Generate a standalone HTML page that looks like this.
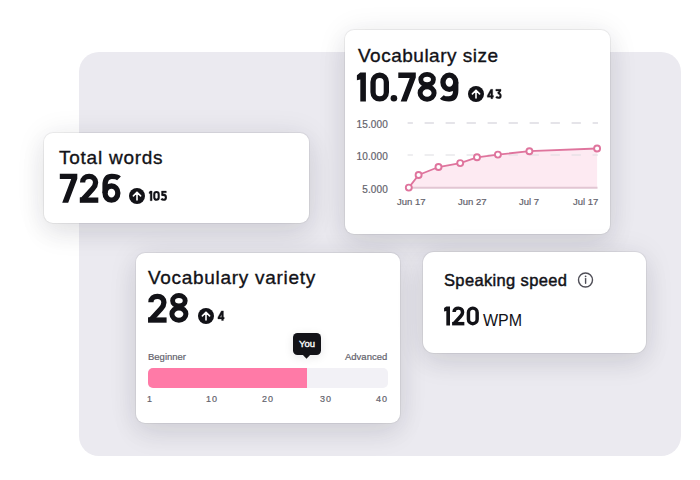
<!DOCTYPE html>
<html><head><meta charset="utf-8">
<style>
html,body{margin:0;padding:0;background:#fff;}
body{width:700px;height:480px;position:relative;overflow:hidden;font-family:"Liberation Sans",sans-serif;color:#121217;}
.abs{position:absolute;}
.panel{left:79px;top:52px;width:602px;height:404px;border-radius:20px;background:#ebeaf0;}
.card{position:absolute;background:#fff;border-radius:9px;box-shadow:0 0 0 1px rgba(0,0,0,0.055),0 2px 30px rgba(35,35,55,0.09),0 12px 26px rgba(35,35,55,0.08);}
.t{position:absolute;white-space:nowrap;line-height:1;}
.h{font-size:19px;-webkit-text-stroke:0.35px #121217;}
.big{font-weight:bold;font-size:39.5px;transform-origin:0 0;-webkit-text-stroke:0.5px #121217;}
.sm{font-weight:bold;font-size:13px;transform:scaleX(0.86);transform-origin:0 0;-webkit-text-stroke:0.2px #121217;}
.up{position:absolute;width:16px;height:16px;border-radius:50%;background:#121217;}
.up svg{position:absolute;left:0;top:0;}
.lab{font-size:9.5px;color:#63626c;-webkit-text-stroke:0.2px #63626c;}
.tk{font-size:9px;letter-spacing:1.1px;}
.yl{font-size:10px;letter-spacing:0.15px;text-align:right;width:40px;}
</style></head><body>
<div class="abs panel"></div>

<!-- Total words -->
<div class="card" style="left:43.5px;top:133.3px;width:265.5px;height:89.5px;"></div>
<div class="t h" style="left:59px;top:147.5px;letter-spacing:0.75px;">Total words</div>
<div class="up" style="left:129.3px;top:187.8px;"><svg width="16" height="16" viewBox="0 0 16 16"><path d="M8 12V4.3M4.4 7.9L8 4.2l3.6 3.7" stroke="#fff" stroke-width="1.6" fill="none" stroke-linecap="round" stroke-linejoin="round"/></svg></div>

<!-- Vocabulary size -->
<div class="card" style="left:344.6px;top:30px;width:265px;height:204.2px;"></div>
<div class="t h" style="left:358px;top:46px;letter-spacing:0.5px;">Vocabulary size</div>
<div class="up" style="left:468px;top:86.3px;"><svg width="16" height="16" viewBox="0 0 16 16"><path d="M8 12V4.3M4.4 7.9L8 4.2l3.6 3.7" stroke="#fff" stroke-width="1.6" fill="none" stroke-linecap="round" stroke-linejoin="round"/></svg></div>
<div class="t lab yl" style="left:348px;top:119.5px;">15.000</div>
<div class="t lab yl" style="left:348px;top:151.5px;">10.000</div>
<div class="t lab yl" style="left:348px;top:184.5px;">5.000</div>
<svg class="abs" style="left:0;top:0;" width="700" height="480">
  <path d="M408.8 187.6 L418.6 175 L438.5 167 L460.2 163.1 L477 157.3 L497.9 154.6 L529.4 151.2 L597.1 148.5 L597.1 187.6 Z" fill="#fdeaf2"/>
  <line x1="407.6" y1="123" x2="598" y2="123" stroke="#dddce2" stroke-width="1.4" stroke-dasharray="9.3 11.7" stroke-dashoffset="4"/>
  <line x1="407.6" y1="155" x2="598" y2="155" stroke="#dcdbe0" stroke-width="1.4" stroke-dasharray="9.3 11.7" stroke-dashoffset="4" opacity="0.6"/>
  <line x1="408" y1="187.8" x2="597.5" y2="187.8" stroke="#e2c6d3" stroke-width="2"/>
  <polyline points="408.8,187.6 418.6,175 438.5,167 460.2,163.1 477,157.3 497.9,154.6 529.4,151.2 597.1,148.5" fill="none" stroke="#df749d" stroke-width="1.8"/>
  <g fill="#fff" stroke="#df749d" stroke-width="1.9">
    <circle cx="408.8" cy="187.6" r="3"/><circle cx="418.6" cy="175" r="3"/><circle cx="438.5" cy="167" r="3"/><circle cx="460.2" cy="163.1" r="3"/><circle cx="477" cy="157.3" r="3"/><circle cx="497.9" cy="154.6" r="3"/><circle cx="529.4" cy="151.2" r="3"/><circle cx="597.1" cy="148.5" r="3"/>
  </g>
</svg>
<div class="t lab" style="left:397px;top:197px;">Jun 17</div>
<div class="t lab" style="left:458px;top:197px;">Jun 27</div>
<div class="t lab" style="left:519px;top:197px;">Jul 7</div>
<div class="t lab" style="left:573px;top:197px;">Jul 17</div>

<!-- Vocabulary variety -->
<div class="card" style="left:135.6px;top:253.3px;width:264.1px;height:169.8px;"></div>
<div class="t h" style="left:148px;top:268px;letter-spacing:0.7px;">Vocabulary variety</div>
<div class="up" style="left:198px;top:308px;"><svg width="16" height="16" viewBox="0 0 16 16"><path d="M8 12V4.3M4.4 7.9L8 4.2l3.6 3.7" stroke="#fff" stroke-width="1.6" fill="none" stroke-linecap="round" stroke-linejoin="round"/></svg></div>
<div class="t lab" style="left:148px;top:352px;">Beginner</div>
<div class="t lab" style="left:345px;top:352px;">Advanced</div>
<div class="abs" style="left:148px;top:368px;width:240px;height:20px;border-radius:5px;background:#f2f1f6;overflow:hidden;"><div style="width:159px;height:20px;background:#ff7aa7;"></div></div>
<div class="abs" style="left:293.4px;top:333px;width:27.8px;height:21.5px;border-radius:4.5px;background:#131318;box-shadow:0 2px 10px rgba(20,20,40,0.10);"></div>
<svg class="abs" style="left:302px;top:354px;" width="9" height="5"><path d="M0 0 L4.5 4.8 L9 0Z" fill="#131318"/></svg>
<div class="t" style="left:299px;top:338.5px;font-size:9.5px;color:#fff;-webkit-text-stroke:0.35px #fff;">You</div>
<div class="t lab tk" style="left:147px;top:395px;">1</div>
<div class="t lab tk" style="left:206px;top:395px;">10</div>
<div class="t lab tk" style="left:262px;top:395px;">20</div>
<div class="t lab tk" style="left:320px;top:395px;">30</div>
<div class="t lab tk" style="left:376px;top:395px;">40</div>

<!-- Speaking speed -->
<div class="card" style="left:423px;top:252px;width:223px;height:101px;border-radius:11px;"></div>
<div class="t" style="left:444px;top:271.5px;font-size:16.5px;letter-spacing:0.35px;-webkit-text-stroke:0.45px #121217;">Speaking speed</div>
<svg class="abs" style="left:577px;top:272px;" width="17" height="17" viewBox="0 0 17 17"><circle cx="8.5" cy="8" r="7" fill="none" stroke="#4f4e57" stroke-width="1.4"/><path d="M8.6 6.6v4.6" stroke="#4f4e57" stroke-width="1.4" stroke-linecap="round"/><circle cx="8.6" cy="4.3" r="0.9" fill="#4f4e57"/></svg>
<div class="t" style="left:483px;top:313px;font-size:16px;">WPM</div>
<!--DIGITS--><svg class="abs" style="left:0;top:0;" width="700" height="480"><g transform="translate(59.80 173.80) scale(1.0)"><path d="M0 0H17.5V5L8.4 29H2.4L11.4 5.3H0Z" fill="#121217"/></g><g transform="translate(79.90 173.80) scale(1.0)"><path d="M2.7 8.6C2.7 4.6 5.6 2.65 9.2 2.65C13 2.65 15.7 5 15.7 8.8C15.7 11.2 14.7 12.9 12.8 15L3.2 25.6" fill="none" stroke="#121217" stroke-width="5.3" stroke-linecap="butt"/><path d="M0 26.35H18.4" fill="none" stroke="#121217" stroke-width="5.3"/><path d="M0 29V23.7L4.8 23.7Z" fill="#121217"/></g><g transform="translate(102.40 173.80) scale(1.0)"><ellipse cx="9.05" cy="19.3" rx="6.4" ry="7.1" fill="none" stroke="#121217" stroke-width="5.3"/><path d="M16.6 4.6C15.2 3.2 12.4 2.65 9.4 2.65C5 2.65 2.65 5.8 2.65 11.5V19.3" fill="none" stroke="#121217" stroke-width="5.3"/></g><g transform="translate(356.90 72.60) scale(1.0)"><path d="M3.4 0H9V29H3.4V7L0 7.6V2.6Z" fill="#121217"/></g><g transform="translate(370.40 72.60) scale(1.0)"><rect x="2.65" y="2.65" width="13.3" height="23.7" rx="6.65" fill="none" stroke="#121217" stroke-width="5.3"/></g><g transform="translate(390.60 72.60) scale(1.0)"><circle cx="3.3" cy="25.7" r="3.3" fill="#121217"/></g><g transform="translate(398.30 72.60) scale(1.0)"><path d="M0 0H17.5V5L8.4 29H2.4L11.4 5.3H0Z" fill="#121217"/></g><g transform="translate(417.80 72.60) scale(1.0)"><ellipse cx="9.3" cy="7.0" rx="6.3" ry="5.2" fill="none" stroke="#121217" stroke-width="4.9"/><ellipse cx="9.3" cy="20.4" rx="7.0" ry="6.15" fill="none" stroke="#121217" stroke-width="5.0"/></g><g transform="translate(440.00 72.60) scale(1.0)"><g transform="rotate(180 9.2 14.5)"><ellipse cx="9.05" cy="19.3" rx="6.4" ry="7.1" fill="none" stroke="#121217" stroke-width="5.3"/><path d="M16.6 4.6C15.2 3.2 12.4 2.65 9.4 2.65C5 2.65 2.65 5.8 2.65 11.5V19.3" fill="none" stroke="#121217" stroke-width="5.3"/></g></g><g transform="translate(148.20 293.70) scale(1.0)"><path d="M2.7 8.6C2.7 4.6 5.6 2.65 9.2 2.65C13 2.65 15.7 5 15.7 8.8C15.7 11.2 14.7 12.9 12.8 15L3.2 25.6" fill="none" stroke="#121217" stroke-width="5.3" stroke-linecap="butt"/><path d="M0 26.35H18.4" fill="none" stroke="#121217" stroke-width="5.3"/><path d="M0 29V23.7L4.8 23.7Z" fill="#121217"/></g><g transform="translate(169.60 293.70) scale(1.0)"><ellipse cx="9.3" cy="7.0" rx="6.3" ry="5.2" fill="none" stroke="#121217" stroke-width="4.9"/><ellipse cx="9.3" cy="20.4" rx="7.0" ry="6.15" fill="none" stroke="#121217" stroke-width="5.0"/></g><g transform="translate(444.10 306.40) scale(0.6551724137931034)"><path d="M3.4 0H9V29H3.4V7L0 7.6V2.6Z" fill="#121217"/></g><g transform="translate(452.30 306.40) scale(0.6551724137931034)"><path d="M2.7 8.6C2.7 4.6 5.6 2.65 9.2 2.65C13 2.65 15.7 5 15.7 8.8C15.7 11.2 14.7 12.9 12.8 15L3.2 25.6" fill="none" stroke="#121217" stroke-width="5.3" stroke-linecap="butt"/><path d="M0 26.35H18.4" fill="none" stroke="#121217" stroke-width="5.3"/><path d="M0 29V23.7L4.8 23.7Z" fill="#121217"/></g><g transform="translate(466.70 306.40) scale(0.6551724137931034)"><rect x="2.65" y="2.65" width="13.3" height="23.7" rx="6.65" fill="none" stroke="#121217" stroke-width="5.3"/></g><g transform="translate(149.10 191.10) scale(0.3310344827586207)"><path d="M3.4 0H9V29H3.4V7L0 7.6V2.6Z" fill="#121217" stroke="#121217" stroke-width="1.0"/></g><g transform="translate(153.40 191.10) scale(0.3310344827586207)"><rect x="2.65" y="2.65" width="13.3" height="23.7" rx="6.65" fill="none" stroke="#121217" stroke-width="6.30"/></g><g transform="translate(160.70 191.10) scale(0.3310344827586207)"><path d="M2.4 0H17V5.2H7.6V13.2H2.4Z" fill="#121217" stroke="#121217" stroke-width="1.0"/><path d="M4.6 13.6C5.9 12.2 7.6 11.3 9.6 11.3C13.2 11.3 15.7 14.4 15.7 19.2C15.7 23.6 12.8 26.35 9 26.35C6 26.35 3.6 25 2.1 22.6" fill="none" stroke="#121217" stroke-width="6.30"/></g><g transform="translate(487.30 89.30) scale(0.3241379310344828)"><path fill-rule="evenodd" d="M10.6 0H16.6V19H19V24.2H16.6V29H11.2V24.2H0V19ZM11.2 10.6V19H6.3Z" fill="#121217" stroke="#121217" stroke-width="1.0"/></g><g transform="translate(495.50 89.30) scale(0.3241379310344828)"><path d="M1 0H17V5L11.6 12.2L6.2 11.6L10.6 5.2H1Z" fill="#121217" stroke="#121217" stroke-width="1.0"/><path d="M7 12.4C12.4 12.4 15.7 15.2 15.7 19.6C15.7 23.9 12.7 26.35 9 26.35C6 26.35 3.5 25 2.1 22.6" fill="none" stroke="#121217" stroke-width="6.30"/></g><g transform="translate(217.90 310.90) scale(0.3310344827586207)"><path fill-rule="evenodd" d="M10.6 0H16.6V19H19V24.2H16.6V29H11.2V24.2H0V19ZM11.2 10.6V19H6.3Z" fill="#121217" stroke="#121217" stroke-width="1.0"/></g></svg>
</body></html>
